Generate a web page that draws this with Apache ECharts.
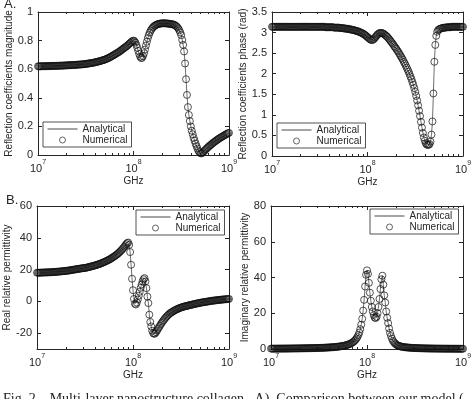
<!DOCTYPE html>
<html>
<head>
<meta charset="utf-8">
<script src="https://cdn.jsdelivr.net/npm/echarts@6/dist/echarts.min.js"></script>
<style>
  html, body { margin: 0; padding: 0; background: #fff; }
  #fig { width: 474px; height: 399px; }
</style>
</head>
<body>
<div id="fig"></div>
<script>
// frequency samples: 10^7 .. 10^9, 0.01 decade apart
let freqs = [];
for (let i = 0; i <= 200; i++) freqs.push(Math.pow(10, 7 + i / 100));

// A. reflection coefficient magnitude
let magnitude = [
  .620,.620,.620,.620,.621,.621,.621,.621,.621,.621,
  .622,.622,.622,.622,.623,.623,.623,.623,.623,.624,
  .624,.624,.624,.625,.625,.625,.625,.626,.626,.626,
  .627,.627,.628,.628,.628,.629,.629,.629,.630,.630,
  .631,.631,.632,.632,.633,.633,.634,.634,.635,.636,
  .637,.638,.639,.640,.641,.642,.643,.644,.645,.647,
  .649,.650,.652,.653,.655,.657,.659,.661,.663,.665,
  .667,.670,.673,.676,.679,.682,.686,.690,.694,.698,
  .702,.706,.710,.714,.718,.722,.727,.732,.737,.742,
  .747,.752,.757,.762,.768,.774,.780,.786,.792,.797,
  .800,.796,.786,.770,.750,.728,.706,.688,.678,.680,
  .692,.712,.737,.765,.792,.817,.838,.856,.870,.881,
  .890,.897,.903,.907,.911,.914,.916,.918,.919,.920,
  .921,.921,.921,.921,.920,.920,.919,.918,.917,.916,
  .915,.914,.912,.909,.905,.900,.893,.884,.872,.857,
  .838,.805,.770,.724,.640,.530,.420,.335,.280,.237,
  .200,.170,.145,.120,.100,.080,.062,.045,.030,.020,
  .013,.011,.014,.020,.027,.034,.041,.048,.054,.060,
  .066,.072,.077,.083,.088,.093,.098,.103,.108,.112,
  .117,.121,.125,.129,.133,.137,.141,.145,.148,.152,
  .155
];

// reflection coefficient phase (rad)
let phase = [
  3.14,3.14,3.14,3.14,3.14,3.14,3.14,3.14,3.14,3.14,
  3.14,3.14,3.14,3.14,3.14,3.14,3.14,3.14,3.14,3.14,
  3.14,3.14,3.14,3.14,3.14,3.14,3.14,3.14,3.14,3.14,
  3.14,3.14,3.14,3.14,3.14,3.14,3.14,3.14,3.14,3.14,
  3.14,3.14,3.14,3.14,3.14,3.14,3.14,3.14,3.14,3.14,
  3.14,3.14,3.14,3.14,3.14,3.14,3.13,3.13,3.13,3.13,
  3.13,3.13,3.13,3.13,3.13,3.12,3.12,3.12,3.12,3.12,
  3.12,3.11,3.11,3.11,3.11,3.10,3.10,3.10,3.09,3.09,
  3.09,3.08,3.08,3.07,3.07,3.06,3.06,3.05,3.04,3.04,
  3.03,3.02,3.01,3.00,2.99,2.98,2.96,2.95,2.93,2.91,
  2.89,2.87,2.85,2.83,2.82,2.82,2.83,2.85,2.88,2.91,
  2.94,2.96,2.98,2.99,2.99,2.99,2.98,2.97,2.95,2.93,
  2.91,2.89,2.86,2.83,2.80,2.77,2.74,2.71,2.67,2.64,
  2.61,2.57,2.54,2.50,2.46,2.42,2.38,2.34,2.29,2.25,
  2.20,2.15,2.10,2.05,1.99,1.93,1.87,1.80,1.73,1.65,
  1.56,1.46,1.35,1.23,1.10,0.97,0.83,0.69,0.56,0.45,
  0.37,0.31,0.28,0.27,0.27,0.29,0.35,0.52,0.84,1.52,
  2.29,2.70,2.92,3.02,3.06,3.08,3.09,3.10,3.11,3.11,
  3.12,3.12,3.12,3.13,3.13,3.13,3.13,3.13,3.14,3.14,
  3.14,3.14,3.14,3.14,3.14,3.14,3.14,3.14,3.14,3.14,
  3.14
];

// B. real relative permittivity
let realPerm = [
  18.0,18.0,18.0,18.0,18.1,18.1,18.1,18.1,18.2,18.2,
  18.2,18.2,18.3,18.3,18.3,18.4,18.4,18.4,18.5,18.5,
  18.6,18.6,18.7,18.7,18.8,18.8,18.9,19.0,19.0,19.1,
  19.2,19.2,19.3,19.4,19.5,19.6,19.7,19.8,19.9,20.0,
  20.1,20.2,20.3,20.4,20.5,20.6,20.7,20.8,20.9,20.9,
  21.0,21.1,21.3,21.4,21.6,21.7,21.9,22.0,22.2,22.4,
  22.5,22.7,22.9,23.1,23.3,23.5,23.7,24.0,24.2,24.5,
  24.7,25.0,25.3,25.6,25.9,26.2,26.5,26.9,27.3,27.7,
  28.1,28.5,28.9,29.4,29.9,30.4,31.0,31.6,32.2,32.9,
  33.6,34.4,35.2,36.0,36.7,37.0,35.5,31.0,23.0,14.2,
  7.0,1.5,-1.5,-2.0,-0.8,1.2,3.5,6.0,8.5,10.6,
  12.6,13.9,14.6,12.5,8.3,3.0,-1.1,-8.4,-13.0,-15.8,
  -18.5,-20.0,-20.5,-20.2,-19.4,-18.4,-17.4,-16.4,-15.4,-14.4,
  -13.5,-12.6,-11.8,-11.0,-10.3,-9.6,-9.0,-8.4,-7.8,-7.3,
  -7.0,-6.6,-6.2,-5.8,-5.5,-5.2,-4.9,-4.6,-4.4,-4.1,
  -3.9,-3.7,-3.5,-3.3,-3.2,-3.0,-2.9,-2.7,-2.6,-2.4,
  -2.3,-2.1,-2.0,-1.9,-1.7,-1.6,-1.4,-1.3,-1.2,-1.0,
  -0.9,-0.8,-0.7,-0.6,-0.5,-0.4,-0.3,-0.2,-0.1,0.0,
  0.1,0.2,0.3,0.4,0.5,0.5,0.6,0.7,0.8,0.8,
  0.9,1.0,1.0,1.1,1.2,1.2,1.3,1.3,1.4,1.4,
  1.5
];

// imaginary relative permittivity
let imagPerm = [
  0.20,0.20,0.20,0.21,0.21,0.21,0.22,0.22,0.22,0.23,
  0.23,0.24,0.24,0.25,0.25,0.26,0.26,0.27,0.27,0.28,
  0.28,0.29,0.30,0.30,0.31,0.32,0.32,0.33,0.34,0.35,
  0.36,0.37,0.38,0.39,0.40,0.41,0.42,0.43,0.44,0.45,
  0.46,0.47,0.48,0.50,0.51,0.52,0.54,0.55,0.57,0.59,
  0.61,0.63,0.65,0.67,0.69,0.71,0.74,0.76,0.79,0.82,
  0.85,0.88,0.92,0.96,1.00,1.04,1.09,1.14,1.19,1.25,
  1.31,1.38,1.45,1.53,1.62,1.72,1.83,1.95,2.08,2.23,
  2.40,2.59,2.81,3.06,3.35,3.69,4.09,4.57,5.15,5.85,
  6.70,7.80,9.20,11.1,13.6,16.9,21.5,27.5,35.0,41.5,
  44.0,42.0,37.0,31.5,27.0,23.5,21.0,19.0,17.6,17.3,
  18.0,20.0,23.5,28.0,33.5,39.0,41.0,36.0,30.0,26.0,
  21.0,17.5,14.5,11.5,9.0,7.2,5.8,4.6,3.8,3.2,
  2.7,2.3,2.0,1.8,1.6,1.4,1.3,1.2,1.1,1.0,
  0.95,0.90,0.85,0.80,0.75,0.71,0.67,0.63,0.60,0.57,
  0.54,0.51,0.49,0.47,0.45,0.43,0.41,0.39,0.38,0.36,
  0.35,0.34,0.33,0.31,0.30,0.29,0.28,0.27,0.27,0.26,
  0.25,0.24,0.24,0.23,0.22,0.22,0.21,0.21,0.20,0.20,
  0.19,0.19,0.18,0.18,0.18,0.17,0.17,0.17,0.16,0.16,
  0.16,0.15,0.15,0.15,0.15,0.14,0.14,0.14,0.14,0.13,
  0.13
];

let legendNames = ['Analytical', 'Numerical'];
let yNames = ['Reflection coefficients magnitude', 'Reflection coefficients phase (rad)',
              'Real relative permittivity', 'Imaginary relative permittivity'];
let yRanges = [[0, 1, 0.2], [0, 3.5, 0.5], [-30, 60, 10], [0, 80, 20]];
let yLabelValues = [null, null, [-20, 0, 20, 40, 60], null];
let panelValues = [magnitude, phase, realPerm, imagPerm];

// minor ticks of the log axis, in decades (2..9 x 10^n)
let minorExps = [];
[7, 8].forEach(function (n) {
    for (let k = 2; k <= 9; k++) minorExps.push(n + Math.log10(k));
});

let FONT = 'Liberation Sans';
let INK = '#262626';

let grids = [
    {left: 38, top: 12, width: 191, height: 143},
    {left: 272, top: 12, width: 191, height: 144},
    {left: 37, top: 206, width: 192, height: 143},
    {left: 271, top: 206, width: 192, height: 143}
];
grids.forEach(function (g) { g.containLabel = false; g.outerBoundsMode = 'none'; });

let legendPos = [
    {left: 43, top: 122},
    {left: 277, top: 123},
    {left: 136, top: 210},
    {left: 370, top: 209}
];
let yNameGap = [21, 21, 20, 17];

let xAxes = [], yAxes = [], series = [], legends = [];

grids.forEach(function (g, p) {
    let line = {onZero: false, lineStyle: {color: INK, width: 1}};
    let logBase = {
        gridIndex: p, type: 'log', logBase: 10, min: 1e7, max: 1e9,
        axisLine: line, splitLine: {show: false},
        axisTick: {inside: true, length: 4, lineStyle: {color: INK}}
    };
    xAxes.push(Object.assign({}, logBase, {
        position: 'bottom',
        name: 'GHz', nameLocation: 'middle', nameGap: 21,
        nameTextStyle: {fontFamily: FONT, fontSize: 10, color: INK},
        axisLabel: {
            margin: 4,
            formatter: function (v) { return '{b|10}{s|' + Math.round(Math.log10(v)) + '}'; },
            rich: {
                b: {fontFamily: FONT, fontSize: 11, color: INK, lineHeight: 15, verticalAlign: 'bottom'},
                s: {fontFamily: FONT, fontSize: 7, color: INK, lineHeight: 8, verticalAlign: 'top'}
            }
        }
    }));
    xAxes.push(Object.assign({}, logBase, {position: 'top', axisLabel: {show: false}}));
    ['bottom', 'top'].forEach(function (pos) {
        xAxes.push({
            gridIndex: p, type: 'value', min: 7, max: 9, position: pos,
            axisLine: {show: false, onZero: false}, axisLabel: {show: false}, splitLine: {show: false},
            axisTick: {inside: true, length: 2, customValues: minorExps, lineStyle: {color: INK}}
        });
    });

    let r = yRanges[p];
    let yBase = {
        gridIndex: p, type: 'value', min: r[0], max: r[1], interval: r[2],
        axisLine: line, splitLine: {show: false},
        axisTick: {inside: true, length: 4, lineStyle: {color: INK}}
    };
    if (yLabelValues[p]) yBase.axisTick.customValues = yLabelValues[p];
    let yLabel = {margin: 5, fontFamily: FONT, fontSize: 11, color: INK};
    if (yLabelValues[p]) yLabel.customValues = yLabelValues[p];
    yAxes.push(Object.assign({}, yBase, {
        position: 'left',
        name: yNames[p], nameLocation: 'middle', nameGap: yNameGap[p],
        nameTextStyle: {fontFamily: FONT, fontSize: 10, color: INK},
        axisLabel: yLabel
    }));
    yAxes.push(Object.assign({}, yBase, {position: 'right', axisLabel: {show: false}}));

    let pts = freqs.map(function (f, i) { return [f, panelValues[p][i]]; });
    series.push({
        name: 'Analytical', type: 'line', xAxisIndex: p * 4, yAxisIndex: p * 2,
        data: pts, symbol: 'none',
        itemStyle: {color: 'rgba(0,0,0,0)', borderColor: 'rgba(0,0,0,0)', borderWidth: 0},
        lineStyle: {color: '#4a4a4a', width: 0.8}, z: 2
    });
    series.push({
        name: 'Numerical', type: 'scatter', xAxisIndex: p * 4, yAxisIndex: p * 2,
        data: pts, symbol: 'circle', symbolSize: 7,
        itemStyle: {color: 'rgba(0,0,0,0)', borderColor: '#111', borderWidth: 0.9}, z: 3
    });

    legends.push(Object.assign({
        orient: 'vertical',
        data: [
            {name: 'Analytical', lineStyle: {width: 1, color: '#4a4a4a'}},
            {name: 'Numerical', itemStyle: {borderWidth: 0.8, borderColor: '#111'}}
        ],
        itemWidth: 30, itemHeight: 6, itemGap: 1,
        padding: [2, 4, 2, 4],
        backgroundColor: '#fff', borderColor: INK, borderWidth: 0.8,
        textStyle: {fontFamily: FONT, fontSize: 10, color: INK},
        selectedMode: false
    }, legendPos[p]));
});

let chart = echarts.init(document.getElementById('fig'), null, {renderer: 'canvas'});
chart.setOption({
    animation: false,
    backgroundColor: '#fff',
    grid: grids,
    xAxis: xAxes,
    yAxis: yAxes,
    legend: legends,
    series: series,
    graphic: [
        {type: 'text', left: 4, top: -2, style: {text: 'A.', fontFamily: FONT, fontSize: 13, fill: INK}},
        {type: 'text', left: 6, top: 194, style: {text: 'B.', fontFamily: FONT, fontSize: 13, fill: INK}},
        {type: 'text', left: 3, top: 392, style: {
            text: 'Fig. 2.   Multi-layer nanostructure collagen.  A). Comparison between our model (',
            fontFamily: 'Liberation Serif', fontSize: 14, fill: '#222'}}
    ]
});
</script>
</body>
</html>
